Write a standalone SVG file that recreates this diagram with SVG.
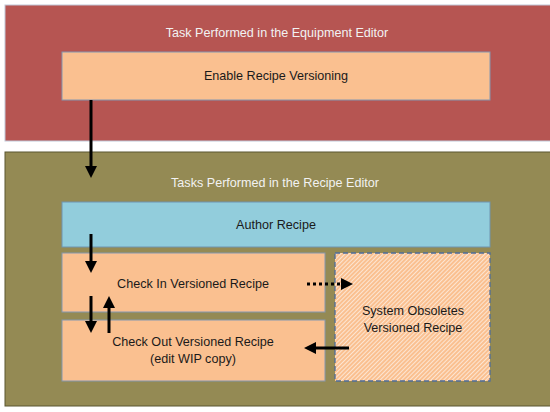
<svg xmlns="http://www.w3.org/2000/svg" width="550" height="412" viewBox="0 0 550 412">
<style>
text{font-family:"Liberation Sans",Arial,sans-serif;font-size:12.6px;text-anchor:middle;dominant-baseline:central}
.t{fill:#F2F2F2}
.d{fill:#1a1a1a}
.box{fill:#FAC090;stroke:#8497B0;stroke-width:1}
.con{stroke:#000;stroke-width:3;fill:none}
</style>
<defs>
<marker id="ah" markerWidth="4" markerHeight="4" refX="2" refY="2" orient="auto" markerUnits="strokeWidth">
<path d="M0,0 L4,2 L0,4 Z" fill="#000"/>
</marker>
<pattern id="hatch" width="3" height="3" patternUnits="userSpaceOnUse" patternTransform="rotate(45)">
<rect width="3" height="3" fill="#FAC090"/>
<line x1="0" y1="0" x2="0" y2="3" stroke="#FFFFFF" stroke-width="1.2"/>
</pattern>
</defs>
<rect width="550" height="412" fill="#FFFFFF"/>
<g id="equipment-editor">
<rect x="5" y="5" width="548" height="136" fill="#B65552" stroke="#C0C8D8" stroke-width="1"/>
<text class="t" x="277" y="33">Task Performed in the Equipment Editor</text>
</g>
<g id="enable-versioning">
<rect class="box" x="62" y="52" width="428" height="48"/>
<text class="d" x="276" y="76">Enable Recipe Versioning</text>
</g>
<g id="recipe-editor">
<rect x="5" y="152" width="548" height="254" fill="#948A54" stroke="#5A5630" stroke-width="1"/>
<text class="t" x="275" y="183">Tasks Performed in the Recipe Editor</text>
</g>
<g id="author-recipe">
<rect x="62" y="202" width="428" height="45" fill="#92CDDC" stroke="#6E94B0" stroke-width="1"/>
<text class="d" x="276" y="225">Author Recipe</text>
</g>
<g id="check-in">
<rect class="box" x="62" y="253" width="263" height="59"/>
<text class="d" x="193" y="284">Check In Versioned Recipe</text>
</g>
<g id="check-out">
<rect class="box" x="62" y="320" width="263" height="61"/>
<text class="d" x="193" y="342">Check Out Versioned Recipe</text>
<text class="d" x="193" y="359">(edit WIP copy)</text>
</g>
<g id="system-obsoletes">
<rect x="335" y="253" width="155" height="128" fill="url(#hatch)" stroke="#4F6D9A" stroke-width="1.3" stroke-dasharray="5,3"/>
<text class="d" x="413" y="311">System Obsoletes</text>
<text class="d" x="413" y="328">Versioned Recipe</text>
</g>
<g id="connectors">
<line class="con" x1="91" y1="100" x2="91" y2="172" marker-end="url(#ah)"/>
<line class="con" x1="91" y1="234" x2="91" y2="267" marker-end="url(#ah)"/>
<line class="con" x1="91" y1="296" x2="91" y2="327" marker-end="url(#ah)"/>
<line class="con" x1="109" y1="333" x2="109" y2="302" marker-end="url(#ah)"/>
<line class="con" x1="307" y1="284" x2="347" y2="284" stroke-dasharray="3,3" marker-end="url(#ah)"/>
<line class="con" x1="349" y1="348" x2="310" y2="348" marker-end="url(#ah)"/>
</g>
</svg>
